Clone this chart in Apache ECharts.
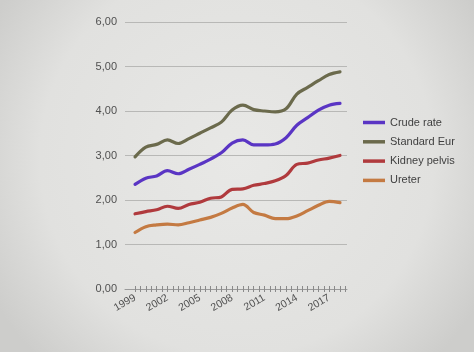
<!DOCTYPE html>
<html>
<head>
<meta charset="utf-8">
<script src="https://cdn.jsdelivr.net/npm/echarts@6/dist/echarts.min.js"></script>
<style>
html,body{margin:0;padding:0;background:#e2e2e0;}
#c{width:474px;height:352px;}
</style>
</head>
<body>
<div id="c"></div>
<script>
var years = [1999,2000,2001,2002,2003,2004,2005,2006,2007,2008,2009,2010,2011,2012,2013,2014,2015,2016,2017,2018];
var crudeRate    = [2.35,2.49,2.54,2.66,2.59,2.69,2.80,2.92,3.06,3.28,3.35,3.24,3.24,3.26,3.40,3.68,3.85,4.02,4.13,4.17];
var standardEur  = [2.97,3.19,3.25,3.35,3.27,3.38,3.50,3.62,3.75,4.02,4.13,4.03,4.00,3.98,4.05,4.38,4.53,4.68,4.82,4.88];
var kidneyPelvis = [1.69,1.74,1.78,1.86,1.81,1.90,1.95,2.04,2.07,2.24,2.25,2.33,2.37,2.43,2.55,2.80,2.83,2.90,2.94,3.00];
var ureter       = [1.27,1.40,1.44,1.46,1.44,1.49,1.55,1.61,1.70,1.82,1.90,1.72,1.66,1.58,1.58,1.64,1.76,1.88,1.97,1.94];
var seriesNames  = ['Crude rate','Standard Eur','Kidney pelvis','Ureter'];
var xLabelYears  = [1999,2002,2005,2008,2011,2014,2017];
var xTickValues  = [];
for (var t = 1999; t <= 2018.5; t += 0.5) xTickValues.push(t);
var yTicks = [0,1,2,3,4,5,6];

function pairs(vals){ return years.map(function(y,i){ return [y, vals[i]]; }); }

var colors = ['#5a35c4','#6b6a4c','#b03a3d','#c47a42'];
var dataSets = [crudeRate, standardEur, kidneyPelvis, ureter];

var chart = echarts.init(document.getElementById('c'));
chart.setOption({
  backgroundColor: {
    type: 'radial', x: 0.5, y: 0.45, r: 0.8,
    colorStops: [{offset: 0, color: '#e8e8e6'}, {offset: 0.7, color: '#e1e1df'}, {offset: 1, color: '#cdcdcb'}]
  },
  animation: false,
  textStyle: {fontFamily: 'Liberation Sans, Arial, sans-serif'},
  grid: {left: 125, right: 127, top: 22, bottom: 63},
  legend: {
    orient: 'vertical', left: 363, top: 117, padding: 0,
    icon: 'rect', itemWidth: 22, itemHeight: 3.5, itemGap: 8.3,
    data: seriesNames,
    textStyle: {fontSize: 11, color: '#3f3f3f'}
  },
  xAxis: [{
    type: 'value', min: 1998.07, max: 2018.65,
    axisLine: {show: true, lineStyle: {color: '#9a9a9a', width: 1}},
    axisTick: {show: true, customValues: xTickValues, length: 3, lineStyle: {color: '#8a8a8a'}},
    axisLabel: {customValues: xLabelYears, rotate: 30, fontSize: 10.5, color: '#505050', margin: 8,
      formatter: function(v){ return String(Math.round(v)); }},
    splitLine: {show: false}
  },{
    type: 'value', min: 1998.07, max: 2018.65, position: 'bottom',
    axisLine: {show: false},
    axisTick: {show: true, inside: true, customValues: xTickValues, length: 3, lineStyle: {color: '#8a8a8a'}},
    axisLabel: {show: false},
    splitLine: {show: false}
  }],
  yAxis: {
    type: 'value', min: 0, max: 6, interval: 1,
    axisLine: {show: false}, axisTick: {show: false},
    axisLabel: {fontSize: 11, color: '#505050', margin: 8,
      formatter: function(v){ return v.toFixed(2).replace('.', ','); }},
    splitLine: {show: true, lineStyle: {color: '#b8b8b6', width: 1}}
  },
  series: seriesNames.map(function(n, i){
    return {
      name: n, type: 'line', xAxisIndex: 0, smooth: 0.35, symbol: 'none',
      data: pairs(dataSets[i]),
      lineStyle: {width: 3.2, color: colors[i], cap: 'round'},
      itemStyle: {color: colors[i]},
      z: 3 + i
    };
  })
});
</script>
</body>
</html>
